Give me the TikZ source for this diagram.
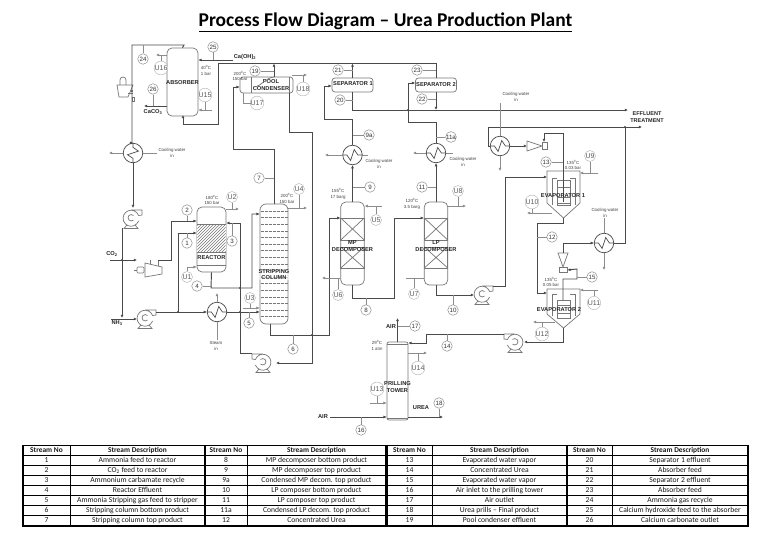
\documentclass[tikz,border=0pt]{standalone}
\usepackage{fontspec}
\setmainfont{Carlito}
\newfontfamily\arialf{Liberation Sans}
\usetikzlibrary{arrows.meta,patterns,calc}
\definecolor{streamc}{HTML}{4A4A4A}
\definecolor{thinc}{HTML}{8C8C8C}
\definecolor{equipc}{HTML}{777777}
\tikzset{
  stream/.style={draw=streamc,line width=0.95pt},
  minor/.style={draw=thinc,line width=0.55pt},
  equip/.style={draw=equipc,line width=0.7pt},
  tip/.style={-{Latex[length=3.2pt,width=3pt]}},
  backtip/.style={{Latex[length=3.2pt,width=3pt]}-},
  tagnode/.style={circle,draw=thinc,line width=0.5pt,inner sep=0pt,minimum size=10.5pt,font=\arialf\fontsize{6.2}{7}\selectfont,text=black!80,fill=white},
  unode/.style={circle,draw=thinc!70,line width=0.4pt,inner sep=0pt,minimum size=11pt,font=\arialf\fontsize{7}{8}\selectfont,text=black!65,fill=white},
  vesselnode/.style={rectangle,rounded corners=5pt,equip,inner sep=0pt,fill=white},
  eqlabel/.style={font=\arialf\bfseries\fontsize{5.7}{6.8}\selectfont,align=center,inner sep=0pt,text=black!85},
  cond/.style={font=\arialf\fontsize{4.4}{5.6}\selectfont,align=center,inner sep=0pt,text=black!75},
  hxnode/.style={circle,draw=streamc,line width=0.7pt,minimum size=19.5pt,inner sep=0pt,fill=white},
  cell/.style={font=\fontsize{7.6}{8.4}\selectfont,inner sep=0pt,anchor=center,text height=5pt,text depth=1.6pt,text=black!90},
  cellb/.style={font=\bfseries\fontsize{7.4}{8.4}\selectfont,inner sep=0pt,anchor=center,text height=5pt,text depth=1.6pt,text=black!90},
  grid line/.style={draw=black,line width=0.45pt},
  frame line/.style={draw=black,line width=1.1pt},
  joint/.style={circle,fill=streamc,inner sep=0pt,minimum size=2.4pt},
  pumpshape/.pic={
    \draw[equip,fill=white] (0,-8) -- (11,-8) -- (11,-3) -- (7.6,-2.5) -- (7.6,-2.5) arc[start angle=-20,end angle=-340,radius=8] ;
    \draw[equip] (2.5,-2.5) arc[start angle=-45,end angle=-315,radius=3.2];
    \draw[equip] (-4,7) -- (-7,10.5) -- (7,10.5) -- (4,7);
  }
}
\newcommand{\tagc}[4]{\node[tagnode] (#1) at (#3) {#2};\coordinate (#1e) at (#4);\draw[minor] (#1) -- (#1e);}
\newcommand{\utag}[4]{\node[unode] (#1) at (#3) {#2};\coordinate (#1e) at (#4);\draw[minor] (#1) -- (#1e);}
\newcommand{\hexch}[2]{\node[hxnode] (#1) at (#2) {};
  \draw[draw=streamc,line width=0.7pt] (#1.west) -- ++(4.5,0) -- ++(3.7,5.5) -- ++(3.6,-11) -- ++(3.7,5.5) -- (#1.east);}
\newcommand{\hexchv}[2]{\node[hxnode] (#1) at (#2) {};
  \draw[draw=streamc,line width=0.7pt] (#1.north) -- ++(0,4.5) -- ++(5.5,3.7) -- ++(-11,3.6) -- ++(5.5,3.7) -- (#1.south);}
\newcommand{\decomp}[3]{%
  \node[vesselnode,minimum width=23.5pt,minimum height=83pt] (#1) at (#2,243.5) {};
  \coordinate (#1a) at (#2-11.75,218);\coordinate (#1b) at (#2+11.75,240);
  \coordinate (#1c) at (#2-11.75,247);\coordinate (#1d) at (#2+11.75,268);
  \draw[equip] (#1a) rectangle (#1b);
  \draw[equip] (#1c) rectangle (#1d);
  \draw[equip] (#1a) -- (#1b) (#1a-|#1b) -- (#1b-|#1a);
  \draw[equip] (#1c) -- (#1d) (#1c-|#1d) -- (#1d-|#1c);
  \node[eqlabel] (#1t) at (#2,243) {#3};
  \node[eqlabel] (#1u) at (#2,250) {DECOMPOSER};
}
\begin{document}
\begin{tikzpicture}[x=1pt,y=-1pt]
\useasboundingbox (0,0) rectangle (768,543);
\fill[white] (0,0) rectangle (768,543);
% title
\node[font=\bfseries\fontsize{19.5}{22}\selectfont,inner sep=0pt,anchor=center] (title) at (385.5,21) {Process Flow Diagram -- Urea Production Plant};
\draw[black,line width=0.9pt] (199,31) -- (572,31);

% equipment
\node[vesselnode,minimum width=31pt,minimum height=68pt] (absorber) at (182.5,82) {};
\node[eqlabel] (absorbert) at (182.5,83) {ABSORBER};
\node[vesselnode,rounded corners=3pt,minimum width=53pt,minimum height=16pt] (pool) at (266.5,85) {};
\draw[equip] (251,77) -- (251,93) (289,77) -- (289,93);
\node[eqlabel] (poolt) at (271,85) {POOL\\CONDENSER};
\node[vesselnode,rounded corners=3pt,minimum width=41pt,minimum height=14pt] (sep1) at (352.5,85) {};
\node[eqlabel] (sep1t) at (353,84) {SEPARATOR 1};
\node[vesselnode,rounded corners=3pt,minimum width=41pt,minimum height=14pt] (sep2) at (436,85) {};
\node[eqlabel] (sep2t) at (436,85) {SEPARATOR 2};

\node[vesselnode,minimum width=29pt,minimum height=65pt] (reactor) at (211.5,239.5) {};
\fill[white] (197.4,224) rectangle (225.6,252);
\path[pattern=north east lines,pattern color=equipc] (197.4,224) rectangle (225.6,252);
\draw[equip] (197,224) -- (226,224) (197,252) -- (226,252) (197,265) -- (226,265);
\node[eqlabel] (reactort) at (211.5,258) {REACTOR};

\node[vesselnode,rounded corners=6pt,minimum width=28pt,minimum height=120pt] (strip) at (274,264) {};
\foreach \yy in {211,217.6,...,319}{\draw[draw=equipc,line width=0.45pt,dash pattern=on 3.2pt off 0.8pt] (260.5,\yy) -- (287.5,\yy);}
\node[eqlabel,fill=white,fill opacity=0.6,text opacity=1] (stript) at (274,274.5) {STRIPPING\\COLUMN};

\decomp{mp}{352.5}{MP}
\decomp{lp}{436}{LP}

\node[vesselnode,rounded corners=2pt,minimum width=21pt,minimum height=78pt] (prill) at (397.5,381) {};
\draw[equip] (387,344) -- (408,344) (387,418) -- (408,418);
\node[eqlabel] (prillt) at (397.5,387) {PRILLING\\TOWER};

% heat exchangers
\hexchv{hxa}{133,153}
\hexch{hxs}{217,312}
\hexch{hxm}{352.5,155}
\hexch{hxl}{436,153}
\hexch{hxe}{500,146}
\hexch{hxf}{604,243}

% pumps
\pic at (131,218) {pumpshape};
\coordinate (pa) at (122,228);
\pic at (145,318) {pumpshape};
\coordinate (pb) at (156,312);
\pic[xscale=-1] at (263,362) {pumpshape};
\coordinate (pc) at (252,354);
\pic at (482,294) {pumpshape};
\coordinate (pd) at (493,286);
\pic[xscale=-1] at (515,342) {pumpshape};
\coordinate (pe) at (504,334);

% compressor
\draw[equip,fill=white] (145,263) -- (162,267) -- (162,274) -- (145,277) -- cycle;
\draw[equip] (150,260) -- (150,264) (158,260) -- (158,266);
\draw[equip,rounded corners=1pt] (137,267) rectangle (144,273);
\draw[equip] (134,270) -- (137,270);

% ejector vessel at stream 24
\draw[equip,fill=white] (117,85) -- (133,85) -- (128,97) -- (119,97) -- cycle;
\draw[equip] (120,85) -- (120,80) arc[start angle=180,end angle=360,radius=3] -- (126,85);
\draw[equip] (128,93) -- (133,93) (132,97) rectangle (134,101);

% evaporators
\coordinate (ev1tl) at (547,171);\coordinate (ev1tr) at (580,171);
\coordinate (ev1apex) at (563.5,218);
\draw[equip,fill=white] (ev1tl) -- (547,203) -- (ev1apex) -- (580,203) -- (ev1tr) -- cycle;
\draw[equip] (552,178) -- (552,205) (575,178) -- (575,205) (552,178) -- (557,178) (570,178) -- (575,178);
\draw[equip] (557,180) rectangle (570,205);
\draw[equip] (557,187) -- (570,187) (557,197) -- (570,197) (557,203) -- (570,203);

\coordinate (ev2tl) at (547,289);\coordinate (ev2tr) at (580,289);
\coordinate (ev2apex) at (563.5,328);
\draw[equip,fill=white] (ev2tl) -- (547,314) -- (ev2apex) -- (580,314) -- (ev2tr) -- cycle;
\draw[equip] (552,294) -- (552,316) (575,294) -- (575,316) (552,294) -- (557,294) (570,294) -- (575,294);
\draw[equip] (557,300) rectangle (570,318);
\draw[equip] (557,305) -- (570,305) (557,313) -- (570,313);

% ejectors
\draw[equip,fill=white] (527,141) -- (542,146) -- (527,151) -- cycle;
\node[draw=equipc,line width=0.7pt,fill=white,minimum width=5pt,minimum height=7pt,inner sep=0pt] (ejbox1) at (544.5,145.5) {};
\draw[equip,fill=white] (558,253) -- (568,253) -- (563,267) -- cycle;
\node[draw=equipc,line width=0.7pt,fill=white,minimum width=8pt,minimum height=4.5pt,inner sep=0pt] (ejbox2) at (563,270) {};

% main streams
\draw[stream,tip] (absorber.north) -- (184,45) -- (132,45) |- (hxa.north);
\draw[stream,tip] (hxa.south) -- (133,208);
\draw[stream,tip] (pa) -- (122,318);
\draw[stream,tip] (111,319) -- (137,319);
\draw[stream,tip] (110,260) -- (137,260);
\draw[stream,tip] (158,260) -- (171,260) -- (171,221) -- (reactor.west |- 0,221);
\draw[stream,tip] (pb) -- (hxs.west);
\draw[stream,tip] (178,312) -- (178,233) -- (reactor.west |- 0,233);
\draw[stream,tip] (hxs.east) -- (strip.west |- 0,312);
\draw[stream,tip] (reactor.south) -- (211,288) -- (252,288) -- (252,214) -- (strip.west |- 0,214);
\draw[stream,tip] (240,223) -- (reactor.east |- 0,223);
\draw[stream] (240,223) -- (240,353) -- (252,353);
\draw[stream,tip] (312,132) -- (312,363) -- (276,363);
\draw[stream] (289,93) -- (289,132) -- (312,132);
\draw[stream,tip] (strip.north) -- (274,149) -- (233,149) -- (233,87) -- (pool.west |- 0,87);
\draw[stream,tip] (270,324) -- (270,335) -- (329,335) -- (329,218) -- (mp.west |- 0,218);
\draw[stream,tip] (352.5,285) -- (352.5,298) -- (394,298) -- (394,218) -- (lp.west |- 0,218);
\draw[stream,tip] (mp.north) -- (hxm.south);
\draw[stream,tip] (lp.north) -- (hxl.south);
\draw[stream,tip] (hxm.north) -- (352.5,119) -- (324,119) -- (324,86) -- (sep1.west |- 0,86);
\draw[stream,tip] (hxl.north) -- (436,122) -- (408,122) -- (408,83) -- (sep2.west |- 0,83);
\draw[stream,tip] (436,285) -- (436,295) -- (474,295);
\draw[stream,tip] (pd) -- (505,286) -- (505,177) -- (547,177);
\draw[stream,tip] (ev1apex) -- (563.5,223) -- (537,223) -- (537,293) -- (547,293);
\draw[stream,tip] (ev2apex) -- (563.5,342) -- (524,342);
\draw[stream,tip] (pe) -- (426,334) -- (426,343) -- (prill.east |- 0,343);
\draw[stream,tip] (prill.north) -- (397.5,318);
\draw[stream,tip] (330,417) -- (prill.west |- 0,417);
\draw[stream,tip] (prill.east |- 0,417) -- (443,417);
% overhead recycle
\draw[stream,tip] (sep2.north) -- (436,63) -- (218,63) -- (218,124) -- (183,124) -- (183,115);
\draw[stream,tip] (sep1.north) -- (352.5,63.5);
\draw[stream,tip] (274,77) -- (274,63.5);
\draw[equip] (274,77) .. controls (265,78) and (262,86) .. (254,87);
\draw[stream,tip] (sep1.south) -- (352.5,110) -- (628,110);
\draw[stream,tip] (sep2.south) -- (436,110);
\draw[stream,tip] (488,127) -- (642,127);
\draw[stream] (488,127) -- (488,146) -- (hxe.west);
\draw[stream] (625,127) -- (625,243) -- (hxf.east);
\draw[stream,tip] (hxe.east) -- (527,146);
\draw[stream,tip] (563,202) -- (563,133) -- (544,133) -- (544,142);
\draw[stream,tip] (563,253) -- (563,243) -- (hxf.west);
\draw[stream,tip] (563,300) -- (563,279) -- (577,279) -- (577,269) -- (ejbox2.east);
\draw[stream,tip] (233,60) -- (absorber.east |- 0,60);
\draw[stream,tip] (absorber.west |- 0,106) -- (144,106);

% crossing marks
\foreach \jn/\jp in {ja/{122,260},jb/{240,288},jc/{240,312},jd/{312,335},je/{625,127},jf/{132,91},jg/{178,312},jh/{408,110}}{\node[joint] (\jn) at (\jp) {};}

% evaporator titles over streams
\node[eqlabel] (ev1t) at (563,196) {EVAPORATOR 1};
\node[eqlabel] (ev2t) at (559,310) {EVAPORATOR 2};

% cooling / steam lines
\draw[minor,tip] (hxa.west) -- (109,153);
\draw[minor] (hxa.east) -- (157,153);
\draw[minor,tip] (hxm.west) -- (325,155);
\draw[minor] (hxm.east) -- (368,155);
\draw[minor,tip] (hxl.west) -- (413,153);
\draw[minor] (hxl.east) -- (453,153);
\draw[minor] (500,103) -- (hxe.north);
\draw[minor,tip] (hxe.south) -- (500,171);
\draw[minor] (604,218) -- (hxf.north);
\draw[minor,tip] (hxf.south) -- (604,270);
\draw[minor] (217,340) -- (hxs.south);
\draw[minor,tip] (hxs.north) -- (217,293);

% condition labels
\node[cond] (c1) at (206,70.5) {40\textsuperscript{0}C\\1 bar};
\node[cond] (c2) at (240,76) {200\textsuperscript{0}C\\150 bar};
\node[cond] (c3) at (287,198.5) {200\textsuperscript{0}C\\150 bar};
\node[cond] (c4) at (212,200) {180\textsuperscript{0}C\\150 bar};
\node[cond] (c5) at (338,194) {155\textsuperscript{0}C\\17 barg};
\node[cond] (c6) at (412,204) {120\textsuperscript{0}C\\3.5 barg};
\node[cond] (c7) at (573,165) {135\textsuperscript{0}C\\0.03 bar};
\node[cond] (c8) at (551,282) {135\textsuperscript{0}C\\0.05 bar};
\node[cond] (c9) at (377,345.5) {29\textsuperscript{0}C\\1 atm};
\node[cond] (w1) at (172,153) {Cooling water\\in};
\node[cond] (w2) at (379,164) {Cooling water\\in};
\node[cond] (w3) at (463,162) {Cooling water\\in};
\node[cond] (w4) at (516,97) {Cooling water\\in};
\node[cond] (w5) at (605,213) {Cooling water\\in};
\node[cond] (w6) at (216,346) {Steam\\in};

% stream labels
\node[eqlabel] (caoh) at (245,57.5) {Ca(OH)\textsubscript{2}};
\node[eqlabel] (caco) at (153,112.5) {CaCO\textsubscript{3}};
\node[eqlabel] (co2) at (112,254.5) {CO\textsubscript{2}};
\node[eqlabel] (nh3) at (117,323) {NH\textsubscript{3}};
\node[eqlabel] (air1) at (391,327) {AIR};
\node[eqlabel] (air2) at (323,417) {AIR};
\node[eqlabel] (urea) at (421,408) {UREA};
\node[eqlabel,font=\arialf\bfseries\fontsize{5.5}{7}\selectfont] (eff) at (647,117.5) {EFFLUENT\\TREATMENT};

% numbered tags
\tagc{t1}{1}{187,243}{187,233}
\tagc{t2}{2}{187,210}{187,221}
\tagc{t3}{3}{232,241}{232,223}
\tagc{t4}{4}{197,286}{211,286}
\tagc{t5}{5}{249,323}{249,312}
\tagc{t6}{6}{293,349}{293,335}
\tagc{t7}{7}{259,178}{274,178}
\tagc{t8}{8}{366,310}{366,298}
\tagc{t9}{9}{370,187}{352.5,187}
\tagc{t9a}{9a}{369,135}{352.5,135}
\tagc{t10}{10}{453,310}{453,295}
\tagc{t11}{11}{422,187}{436,187}
\tagc{t11a}{11a}{451,137}{436,137}
\tagc{t12}{12}{552,237}{537,237}
\tagc{t13}{13}{546,162}{563,162}
\tagc{t14}{14}{447,346}{447,334}
\tagc{t15}{15}{592,277}{577,277}
\tagc{t16}{16}{361,430}{361,417}
\tagc{t17}{17}{415,326}{397.5,326}
\tagc{t18}{18}{439,403}{439,417}
\tagc{t19}{19}{255,71}{274,71}
\tagc{t20}{20}{340,100}{352.5,100}
\tagc{t21}{21}{338,70}{352.5,70}
\tagc{t22}{22}{422,99}{436,99}
\tagc{t23}{23}{417,70}{436,70}
\tagc{t24}{24}{143,59}{143,45}
\tagc{t25}{25}{213,47}{213,60}
\tagc{t26}{26}{153,89}{153,106}

% utility tags
\draw[minor,tip] (187,267) -- (reactor.west |- 0,267);
\utag{u1}{U1}{187,277}{187,267}
\draw[minor,tip] (reactor.east |- 0,209) -- (239,209);
\utag{u2}{U2}{232,197}{232,209}
\draw[minor,tip] (243,308) -- (strip.west |- 0,308);
\utag{u3}{U3}{250,298}{250,308}
\draw[minor,tip] (strip.east |- 0,208) -- (307,208);
\utag{u4}{U4}{299,189}{299,208}
\draw[minor,tip] (382,206) -- (mp.east |- 0,206);
\utag{u5}{U5}{376,220}{376,206}
\draw[minor,tip] (mp.west |- 0,278) -- (322,278);
\utag{u6}{U6}{338,295}{338,278}
\draw[minor] (406,278) -- (lp.west |- 0,278);
\utag{u7}{U7}{414,294}{414,278}
\draw[minor,tip] (lp.east |- 0,206) -- (466,206);
\utag{u8}{U8}{458,191}{458,206}
\draw[minor,tip] (598,173) -- (580,173);
\utag{u9}{U9}{590,156}{590,173}
\draw[minor,tip] (552,213) -- (527,213);
\utag{u10}{U10}{532,202}{532,213}
\draw[minor,tip] (598,290) -- (580,290);
\utag{u11}{U11}{594,303}{594,290}
\draw[minor,tip] (555,322) -- (533,322);
\utag{u12}{U12}{542,334}{542,322}
\draw[minor,tip] (370,403) -- (prill.west |- 0,403);
\utag{u13}{U13}{377,389}{377,403}
\draw[minor,tip] (prill.east |- 0,353) -- (427,353);
\utag{u14}{U14}{418,368}{418,353}
\draw[minor,backtip] (absorber.east |- 0,110) -- (212,110);
\utag{u15}{U15}{205,95}{205,110}
\draw[minor,tip] (absorber.west |- 0,55) -- (156,55);
\utag{u16}{U16}{161,68}{161,55}
\draw[minor] (243,93) |- (250,103);
\utag{u17}{U17}{257,103}{250,103}
\draw[minor,tip] (292,75) -- (307,75);
\utag{u18}{U18}{303,89}{303,75}

% table
\foreach \xa/\xb in {23/386,387/748}{
  \draw[frame line] (\xa,445.5) rectangle (\xb,526);
  \foreach \yy in {455.5,465.5,475.5,485.5,495.5,505.5,515.5}{\draw[grid line] (\xa,\yy) -- (\xb,\yy);}
}
\foreach \xx in {70,247,432,612}{\draw[grid line] (\xx,445.5) -- (\xx,526);}
\foreach \xx in {205,567}{\draw[frame line] (\xx,445.5) -- (\xx,526);}
\foreach \rid/\ry/\sa/\da/\sb/\db/\sc/\dc/\sd/\dd in {
 a/460.6/1/Ammonia feed to reactor/8/MP decomposer bottom product/13/Evaporated water vapor/20/Separator 1 effluent,
 b/470.6/2/CO\textsubscript{2} feed to reactor/9/MP decomposer top product/14/Concentrated Urea/21/Absorber feed,
 c/480.6/3/Ammonium carbamate recycle/9a/Condensed MP decom. top product/15/Evaporated water vapor/22/Separator 2 effluent,
 d/490.6/4/Reactor Effluent/10/LP composer bottom product/16/Air inlet to the prilling tower/23/Absorber feed,
 e/500.6/5/Ammonia Stripping gas feed to stripper/11/LP composer top product/17/Air outlet/24/Ammonia gas recycle,
 f/510.6/6/Stripping column bottom product/11a/Condensed LP decom. top product/18/Urea prills -- Final product/25/Calcium hydroxide feed to the absorber,
 g/520.6/7/Stripping column top product/12/Concentrated Urea/19/Pool condenser effluent/26/Calcium carbonate outlet}{
  \node[cell] (n\rid a) at (46.5,\ry) {\sa};
  \node[cell] (d\rid a) at (137.5,\ry) {\da};
  \node[cell] (n\rid b) at (226,\ry) {\sb};
  \node[cell] (d\rid b) at (316.5,\ry) {\db};
  \node[cell] (n\rid c) at (409.5,\ry) {\sc};
  \node[cell] (d\rid c) at (499.5,\ry) {\dc};
  \node[cell] (n\rid d) at (589.5,\ry) {\sd};
  \node[cell] (d\rid d) at (680,\ry) {\dd};
}
\foreach \nx/\dx/\cid in {46.5/137.5/a,226/316.5/b,409.5/499.5/c,589.5/680/d}{
  \node[cellb] (hn\cid) at (\nx,450.6) {Stream No};
  \node[cellb] (hd\cid) at (\dx,450.6) {Stream Description};
}
\end{tikzpicture}
\end{document}
